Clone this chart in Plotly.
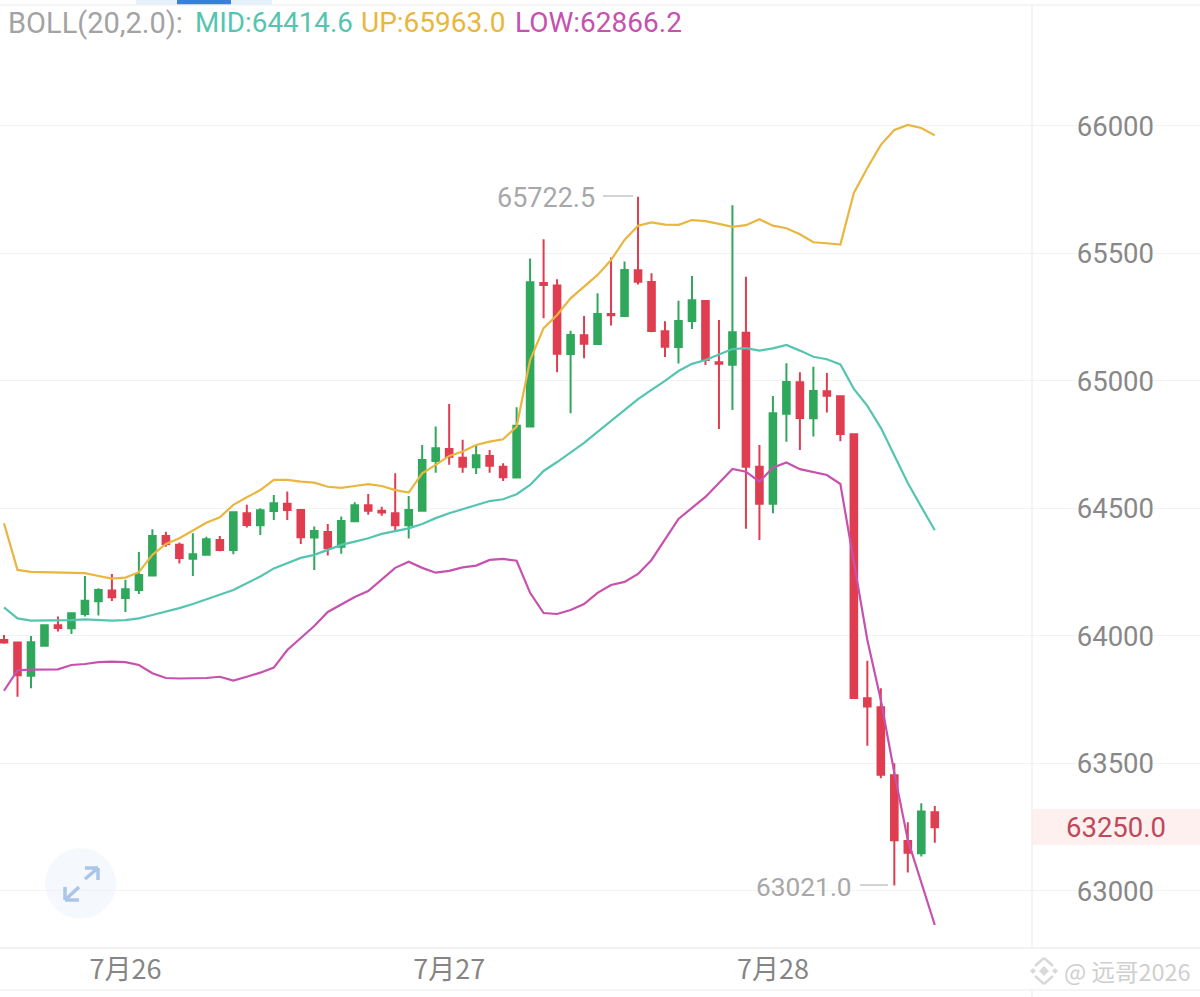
import plotly.graph_objects as go

labels = ['7月26', '7月27', '7月28']
label_idx = [9, 33, 57]
price_ticks = [63000, 63500, 64000, 64500, 65000, 65500, 66000]

idx = list(range(70))

opens = [63984, 63974, 63844, 63962, 64042, 64030, 64086, 64136, 64178, 64149,
         64180, 64237, 64392, 64358, 64303, 64318, 64376, 64337, 64481, 64434,
         64490, 64518, 64494, 64386, 64408, 64350, 64450, 64513, 64491, 64481,
         64434, 64491, 64686, 64733, 64699, 64662, 64706, 64664, 64621, 64821,
         65384, 65374, 65106, 65179, 65145, 65263, 65255, 65434, 65388, 65195,
         65133, 65235, 65314, 65073, 65064, 65189, 64664, 64518, 64871, 64995,
         64854, 64960, 64940, 64791, 63756, 63720, 63454, 63196, 63148, 63309]
closes = [63974, 63846, 63975, 64042, 64031, 64089, 64138, 64180, 64152, 64183,
          64239, 64392, 64361, 64306, 64320, 64379, 64337, 64485, 64435, 64493,
          64520, 64494, 64387, 64412, 64344, 64451, 64513, 64491, 64484, 64434,
          64494, 64690, 64736, 64703, 64664, 64709, 64667, 64622, 64824, 65387,
          65376, 65107, 65180, 65146, 65263, 65258, 65435, 65389, 65196, 65134,
          65235, 65316, 65082, 65067, 65191, 64664, 64518, 64873, 64996, 64855,
          64961, 64942, 64792, 63757, 63723, 63456, 63199, 63150, 63311, 63250]
highs = [64004, 63974, 64000, 64042, 64076, 64090, 64235, 64187, 64243, 64220,
         64329, 64418, 64409, 64366, 64403, 64389, 64392, 64486, 64514, 64501,
         64553, 64566, 64496, 64429, 64439, 64468, 64524, 64557, 64507, 64638,
         64549, 64749, 64821, 64910, 64769, 64749, 64729, 64677, 64897, 65480,
         65556, 65399, 65197, 65255, 65344, 65484, 65468, 65722.5, 65422, 65234,
         65315, 65412, 65315, 65239, 65689, 65409, 64749, 64941, 65069, 65034,
         65056, 65031, 64941, 64792, 63903, 63795, 63501, 63269, 63344, 63333]
lows = [63969, 63762, 63795, 63962, 64017, 64008, 64076, 64080, 64137, 64094,
        64164, 64237, 64350, 64284, 64235, 64316, 64332, 64320, 64425, 64396,
        64455, 64455, 64361, 64259, 64315, 64322, 64449, 64475, 64471, 64409,
        64382, 64490, 64640, 64671, 64640, 64635, 64640, 64608, 64620, 64820,
        65246, 65034, 64873, 65089, 65144, 65217, 65254, 65378, 65191, 65094,
        65068, 65204, 65063, 64812, 64886, 64420, 64376, 64481, 64762, 64729,
        64782, 64876, 64764, 63755, 63569, 63442, 63021, 63072, 63135, 63189]

boll_up = [64442, 64259, 64251, 64250, 64248, 64246, 64246, 64235, 64225, 64229,
           64250, 64318, 64361, 64383, 64413, 64444, 64465, 64514, 64544, 64572,
           64612, 64612, 64605, 64601, 64585, 64581, 64588, 64595, 64588, 64572,
           64562, 64638, 64671, 64706, 64723, 64749, 64762, 64771, 64821, 65082,
           65207, 65259, 65324, 65370, 65416, 65474, 65553, 65609, 65622, 65613,
           65612, 65631, 65627, 65616, 65604, 65611, 65634, 65609, 65599, 65575,
           65544, 65540, 65535, 65737, 65835, 65926, 65984, 66004, 65992, 65963]
boll_mid = [64112, 64069, 64060, 64060, 64060, 64062, 64065, 64062, 64060, 64062,
            64069, 64082, 64095, 64109, 64125, 64144, 64161, 64180, 64207, 64233,
            64265, 64287, 64306, 64318, 64337, 64357, 64370, 64383, 64400, 64412,
            64422, 64439, 64462, 64481, 64498, 64514, 64529, 64536, 64556, 64592,
            64647, 64682, 64718, 64757, 64800, 64843, 64886, 64929, 64965, 65000,
            65039, 65067, 65082, 65102, 65125, 65129, 65119, 65128, 65141, 65119,
            65095, 65085, 65065, 64969, 64902, 64816, 64710, 64600, 64506, 64414.6]
boll_low = [63785, 63865, 63868, 63868, 63869, 63886, 63890, 63897, 63899, 63897,
            63886, 63854, 63835, 63833, 63834, 63835, 63840, 63825, 63840, 63856,
            63876, 63945, 63992, 64039, 64094, 64122, 64153, 64176, 64220, 64267,
            64291, 64267, 64248, 64255, 64269, 64276, 64298, 64302, 64295, 64169,
            64090, 64086, 64102, 64125, 64169, 64200, 64212, 64243, 64298, 64376,
            64459, 64502, 64545, 64600, 64655, 64644, 64605, 64660, 64680, 64654,
            64644, 64631, 64596, 64298, 63984, 63749, 63463, 63200, 63031, 62866.2]

RED = '#e03e50'
GREEN = '#2fa85c'
GRAY = '#a3a3a3'
FONT = 'Roboto'

fig = go.Figure()

fig.add_trace(go.Candlestick(
    x=idx, open=opens, high=highs, low=lows, close=closes,
    increasing=dict(line=dict(color=GREEN, width=2), fillcolor=GREEN),
    decreasing=dict(line=dict(color=RED, width=2), fillcolor=RED),
    whiskerwidth=0, hoverinfo='skip', showlegend=False,
))
for vals, col in [(boll_up, '#e9b63f'), (boll_mid, '#55c5b1'), (boll_low, '#c651ae')]:
    fig.add_trace(go.Scatter(x=idx, y=vals, mode='lines', showlegend=False,
                             line=dict(color=col, width=2.2), hoverinfo='skip'))


def px_x(p):
    return p / 1200


def px_y(p):
    return 1 - p / 997


def rect(x0, y0, x1, y1, color, layer='below'):
    return dict(type='rect', xref='paper', yref='paper', layer=layer,
                x0=px_x(x0), x1=px_x(x1), y0=px_y(y0), y1=px_y(y1),
                fillcolor=color, line_width=0)


def seg(x0, y0, x1, y1, color, width=1.5):
    return dict(type='line', xref='paper', yref='paper', layer='above',
                x0=px_x(x0), x1=px_x(x1), y0=px_y(y0), y1=px_y(y1),
                line=dict(color=color, width=width))


def diamond(cx, cy, r, color):
    pts = [(cx, cy - r), (cx + r, cy), (cx, cy + r), (cx - r, cy)]
    path = 'M ' + ' L '.join(f'{px_x(a)},{px_y(b)}' for a, b in pts) + ' Z'
    return dict(type='path', xref='paper', yref='paper', layer='above', path=path,
                fillcolor=color, line_width=0)


ARROW = '#a9c5e8'
MARK = '#d9d9d9'
shapes = [
    rect(1043, 0, 1188, 948, 'white'),
    rect(1032, 809, 1200, 845, '#fdf0ef'),
    rect(136, 0, 272, 5, '#e6f0fb', 'above'),
    rect(177, 0, 231, 5, '#3a7fdc', 'above'),
    seg(0, 5, 1200, 5, '#f2f2f2'),
    seg(1032, 5, 1032, 948, '#f0f0f0'),
    seg(1032, 990, 1032, 997, '#f0f0f0'),
    seg(0, 948, 1200, 948, '#eeeeee'),
    seg(0, 990, 1200, 990, '#f2f2f2'),
    seg(603, 196, 633, 196, '#c4c4c4'),
    seg(860, 885, 888, 885, '#c4c4c4'),
    dict(type='circle', xref='paper', yref='paper', layer='above',
         x0=px_x(45), x1=px_x(116), y0=px_y(848), y1=px_y(919),
         fillcolor='rgba(236,243,251,0.5)', line_width=0),
    seg(85, 879, 98, 868, ARROW, 3.5),
    seg(85, 868, 98, 868, ARROW, 3.5),
    seg(98, 868, 98, 880, ARROW, 3.5),
    seg(79, 887, 65, 900, ARROW, 3.5),
    seg(65, 887, 65, 900, ARROW, 3.5),
    seg(65, 900, 79, 900, ARROW, 3.5),
    seg(1035, 966, 1044, 958, MARK, 2.5),
    seg(1044, 958, 1053, 966, MARK, 2.5),
    seg(1035, 976, 1044, 984, MARK, 2.5),
    seg(1044, 984, 1053, 976, MARK, 2.5),
    diamond(1044, 971, 5, MARK),
    diamond(1033, 971, 3, MARK),
    diamond(1055, 971, 3, MARK),
]


def text(x, y, s, color, size=27.5, anchor='left'):
    return dict(xref='paper', yref='paper', x=px_x(x), y=px_y(y), text=s,
                showarrow=False, xanchor=anchor, yanchor='middle',
                font=dict(family=FONT, size=size, color=color))


annotations = [
    text(6, 23, 'BOLL(20,2.0):', GRAY, 29),
    text(193, 23, 'MID:64414.6', '#55c5b1', 27.8),
    text(359, 23, 'UP:65963.0', '#e9b63f', 28),
    text(513, 23, 'LOW:62866.2', '#c651ae', 28),
    text(597, 198, '65722.5', '#a8a8a8', 27, 'right'),
    text(854, 887, '63021.0', '#a8a8a8', 26.3, 'right'),
    text(1116, 827, '63250.0', '#c0485a', 27.5, 'center'),
    text(1062, 971, '@ 远哥2026', '#cfcfcf', 23.5),
]
annotations[-1]['font']['family'] = 'Noto Sans CJK SC'

fig.update_layout(
    width=1200, height=997, margin=dict(l=0, r=0, t=0, b=0),
    autosize=False,
    paper_bgcolor='white', plot_bgcolor='white',
    shapes=shapes, annotations=annotations,
    xaxis=dict(range=[-0.297, 88.66], tickmode='array', tickvals=label_idx, ticktext=labels,
               showgrid=False, zeroline=False, rangeslider_visible=False,
               ticklabelposition='inside', ticks='', ticklabelstandoff=10,
               tickfont=dict(family='Noto Sans CJK SC', size=27, color='#858585')),
    yaxis=dict(range=[62584, 66494], side='right', tickmode='array', tickvals=price_ticks,
               ticktext=[str(v) for v in price_ticks],
               gridcolor='#f3f3f3', gridwidth=1, zeroline=False,
               ticklabelposition='inside', ticks='', ticklabelstandoff=43,
               tickfont=dict(family=FONT, size=27.5, color='#888888')),
)

fig.write_html("out.html", config={'displayModeBar': False},
               post_script="document.body.style.margin='0';")
